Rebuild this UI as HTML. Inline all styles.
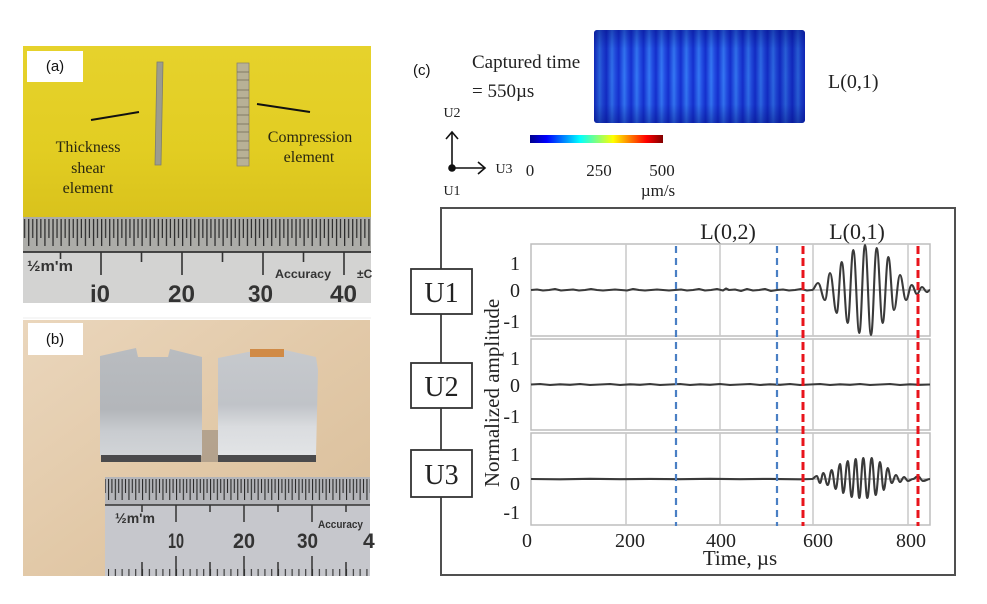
<!DOCTYPE html>
<html><head><meta charset="utf-8"><style>
html,body{margin:0;padding:0;background:#fff;}
svg{display:block;}
</style></head><body>
<svg width="987" height="604" viewBox="0 0 987 604" xmlns="http://www.w3.org/2000/svg">
<defs>
<linearGradient id="yel" x1="0" y1="0" x2="0" y2="1">
<stop offset="0" stop-color="#e6d22c"/><stop offset="0.6" stop-color="#e2cd22"/><stop offset="1" stop-color="#d9c21c"/>
</linearGradient>
<linearGradient id="beige" x1="0" y1="0" x2="1" y2="1">
<stop offset="0" stop-color="#ead6bc"/><stop offset="0.5" stop-color="#e2c9a8"/><stop offset="1" stop-color="#d8bd99"/>
</linearGradient>
<linearGradient id="blkL" x1="0" y1="0" x2="0" y2="1">
<stop offset="0" stop-color="#b9bcc0"/><stop offset="0.55" stop-color="#b3b6ba"/><stop offset="0.75" stop-color="#c9ccd0"/><stop offset="1" stop-color="#d3d6d9"/>
</linearGradient>
<linearGradient id="blkR" x1="0" y1="0" x2="0" y2="1">
<stop offset="0" stop-color="#c6c9cd"/><stop offset="0.5" stop-color="#c0c3c8"/><stop offset="0.7" stop-color="#dadcdf"/><stop offset="1" stop-color="#e3e5e7"/>
</linearGradient>
<linearGradient id="jet" x1="0" y1="0" x2="1" y2="0">
<stop offset="0" stop-color="#00008f"/><stop offset="0.125" stop-color="#0000ff"/><stop offset="0.375" stop-color="#00ffff"/><stop offset="0.625" stop-color="#ffff00"/><stop offset="0.875" stop-color="#ff0000"/><stop offset="1" stop-color="#800000"/>
</linearGradient>
<linearGradient id="stripe" x1="0" y1="0" x2="1" y2="0">
<stop offset="0" stop-color="#1530d0"/><stop offset="0.45" stop-color="#3478f4"/><stop offset="0.7" stop-color="#2450e4"/><stop offset="1" stop-color="#1530d0"/>
</linearGradient>
<pattern id="cyl" x="594" y="0" width="12.4" height="200" patternUnits="userSpaceOnUse">
<rect x="0" y="0" width="12.4" height="200" fill="url(#stripe)"/>
</pattern>
<linearGradient id="cylshade" x1="0" y1="0" x2="0" y2="1">
<stop offset="0" stop-color="#000a70" stop-opacity="0.4"/><stop offset="0.2" stop-color="#000a70" stop-opacity="0.05"/><stop offset="0.5" stop-color="#000a70" stop-opacity="0"/><stop offset="0.8" stop-color="#000a70" stop-opacity="0.05"/><stop offset="1" stop-color="#000a70" stop-opacity="0.4"/>
</linearGradient>
<linearGradient id="cylh" x1="0" y1="0" x2="1" y2="0">
<stop offset="0" stop-color="#000a70" stop-opacity="0.25"/><stop offset="0.12" stop-color="#000a70" stop-opacity="0"/><stop offset="0.6" stop-color="#000a70" stop-opacity="0"/><stop offset="1" stop-color="#000a70" stop-opacity="0.25"/>
</linearGradient>
<pattern id="rA" x="20" y="217" width="8.1" height="40" patternUnits="userSpaceOnUse">
<line x1="0.6" y1="2" x2="0.6" y2="29" stroke="#2a2a2a" stroke-width="1.3"/>
<line x1="4.65" y1="2" x2="4.65" y2="21" stroke="#2a2a2a" stroke-width="1.2"/>
</pattern>
<pattern id="rB" x="108" y="477" width="6.8" height="40" patternUnits="userSpaceOnUse">
<line x1="0.5" y1="2" x2="0.5" y2="23" stroke="#2a2a2a" stroke-width="1.2"/>
<line x1="3.9" y1="2" x2="3.9" y2="16" stroke="#2a2a2a" stroke-width="1.1"/>
</pattern>
<pattern id="rB2" x="108" y="566" width="6.8" height="10" patternUnits="userSpaceOnUse">
<line x1="0.5" y1="3" x2="0.5" y2="10" stroke="#2a2a2a" stroke-width="1.1"/>
</pattern>
</defs>

<!-- ===== Photo (a) ===== -->
<rect x="23" y="46" width="348" height="172" fill="url(#yel)"/>
<rect x="23" y="217" width="348" height="36" fill="#acaca8"/>
<rect x="23" y="217" width="348" height="36" fill="url(#rA)"/>
<rect x="23" y="252" width="348" height="51" fill="#d3d3d2"/>
<line x1="23" y1="252" x2="371" y2="252" stroke="#333" stroke-width="1.8"/>
<g stroke="#333" stroke-width="1.6">
<line x1="101" y1="252" x2="101" y2="275"/><line x1="182" y1="252" x2="182" y2="275"/><line x1="263" y1="252" x2="263" y2="275"/><line x1="344" y1="252" x2="344" y2="275"/>
<line x1="60.5" y1="252" x2="60.5" y2="259"/><line x1="141.5" y1="252" x2="141.5" y2="262"/><line x1="222.5" y1="252" x2="222.5" y2="262"/><line x1="303.5" y1="252" x2="303.5" y2="262"/>
</g>
<g font-family="Liberation Sans, sans-serif" font-weight="bold" fill="#333">
<text x="27" y="271" font-size="15" textLength="46" lengthAdjust="spacingAndGlyphs">½m'm</text>
<text x="275" y="278" font-size="12" textLength="56" lengthAdjust="spacingAndGlyphs">Accuracy</text>
<text x="357" y="278" font-size="12">±C</text>
<text x="90" y="302" font-size="24" textLength="20" lengthAdjust="spacingAndGlyphs">i0</text>
<text x="168" y="302" font-size="24" textLength="27" lengthAdjust="spacingAndGlyphs">20</text>
<text x="248" y="302" font-size="24" textLength="25" lengthAdjust="spacingAndGlyphs">30</text>
<text x="330" y="302" font-size="24" textLength="27" lengthAdjust="spacingAndGlyphs">40</text>
</g>
<line x1="23" y1="318" x2="371" y2="318" stroke="#ececec" stroke-width="1"/>
<!-- elements -->
<polygon points="157,62 163,62 161,165 155,165" fill="#9c9c8e" stroke="#7d7d70" stroke-width="0.8"/>
<polygon points="237,63 249,63 249,166 237,166" fill="#b8b196" stroke="#8a846c" stroke-width="0.8"/>
<g stroke="#6a6450" stroke-width="0.7">
<line x1="237" y1="72" x2="249" y2="72"/><line x1="237" y1="80" x2="249" y2="80"/><line x1="237" y1="90" x2="249" y2="90"/><line x1="237" y1="98" x2="249" y2="98"/><line x1="237" y1="107" x2="249" y2="107"/><line x1="237" y1="115" x2="249" y2="115"/><line x1="237" y1="124" x2="249" y2="124"/><line x1="237" y1="132" x2="249" y2="132"/><line x1="237" y1="141" x2="249" y2="141"/><line x1="237" y1="150" x2="249" y2="150"/><line x1="237" y1="158" x2="249" y2="158"/>
</g>
<line x1="91" y1="120" x2="139" y2="112" stroke="#111" stroke-width="2"/>
<line x1="257" y1="104" x2="310" y2="112" stroke="#111" stroke-width="2"/>
<g font-family="Liberation Serif, serif" font-size="16" fill="#2a2810" text-anchor="middle">
<text x="88" y="152">Thickness</text>
<text x="88" y="173">shear</text>
<text x="88" y="193">element</text>
<text x="310" y="142">Compression</text>
<text x="309" y="162">element</text>
</g>
<rect x="27" y="51" width="56" height="31" fill="#fff"/>
<text x="55" y="71" font-family="Liberation Sans, sans-serif" font-size="15" text-anchor="middle" fill="#111">(a)</text>

<!-- ===== Photo (b) ===== -->
<rect x="23" y="320" width="347" height="256" fill="url(#beige)"/>
<rect x="198" y="430" width="24" height="32" fill="#8e8478" opacity="0.55"/>
<path d="M100,356 L136,348 L138,357 L168,357 L170,349 L202,357 L202,455 L197,460 L104,460 L100,455 Z" fill="url(#blkL)"/>
<path d="M218,358 L248,352 L285,350 L316,357 L318,370 L316,455 L312,460 L222,460 L218,455 Z" fill="url(#blkR)"/>
<rect x="101" y="455" width="100" height="7" fill="#4a4a4c"/>
<rect x="218" y="455" width="98" height="7" fill="#4a4a4c"/>
<rect x="250" y="349" width="34" height="8" fill="#d08a46"/>
<rect x="105" y="477" width="265" height="99" fill="#c6c7cc"/>
<rect x="105" y="477" width="265" height="28" fill="#b4b5b9"/>
<rect x="105" y="477" width="265" height="28" fill="url(#rB)"/>
<rect x="105" y="566" width="265" height="10" fill="url(#rB2)"/>
<line x1="105" y1="505" x2="370" y2="505" stroke="#333" stroke-width="1.6"/>
<g stroke="#333" stroke-width="1.5">
<line x1="176" y1="505" x2="176" y2="522"/><line x1="244" y1="505" x2="244" y2="522"/><line x1="312" y1="505" x2="312" y2="522"/>
<line x1="142" y1="505" x2="142" y2="512"/><line x1="210" y1="505" x2="210" y2="512"/><line x1="278" y1="505" x2="278" y2="512"/><line x1="346" y1="505" x2="346" y2="512"/>
<line x1="176" y1="556" x2="176" y2="576"/><line x1="244" y1="556" x2="244" y2="576"/><line x1="312" y1="556" x2="312" y2="576"/>
<line x1="142" y1="562" x2="142" y2="576"/><line x1="210" y1="562" x2="210" y2="576"/><line x1="278" y1="562" x2="278" y2="576"/><line x1="346" y1="562" x2="346" y2="576"/>
</g>
<g font-family="Liberation Sans, sans-serif" font-weight="bold" fill="#333">
<text x="115" y="523" font-size="14" textLength="40" lengthAdjust="spacingAndGlyphs">½m'm</text>
<text x="318" y="528" font-size="11" textLength="45" lengthAdjust="spacingAndGlyphs">Accuracy</text>
<text x="168" y="548" font-size="21" textLength="16" lengthAdjust="spacingAndGlyphs">10</text>
<text x="233" y="548" font-size="21" textLength="22" lengthAdjust="spacingAndGlyphs">20</text>
<text x="297" y="548" font-size="21" textLength="21" lengthAdjust="spacingAndGlyphs">30</text>
<text x="363" y="548" font-size="21">4</text>
</g>
<rect x="28" y="323" width="55" height="32" fill="#fff"/>
<text x="55" y="344" font-family="Liberation Sans, sans-serif" font-size="15" text-anchor="middle" fill="#111">(b)</text>

<!-- ===== (c) top ===== -->
<text x="413" y="75" font-family="Liberation Sans, sans-serif" font-size="15" fill="#111">(c)</text>
<g font-family="Liberation Serif, serif" fill="#222">
<text x="472" y="68" font-size="19">Captured time</text>
<text x="472" y="97" font-size="19">= 550µs</text>
<text x="828" y="88" font-size="20">L(0,1)</text>
<text x="530" y="176" font-size="17" text-anchor="middle">0</text>
<text x="599" y="176" font-size="17" text-anchor="middle">250</text>
<text x="662" y="176" font-size="17" text-anchor="middle">500</text>
<text x="658" y="196" font-size="17" text-anchor="middle">µm/s</text>
<text x="452" y="117" font-size="14" text-anchor="middle">U2</text>
<text x="504" y="173" font-size="14" text-anchor="middle">U3</text>
<text x="452" y="195" font-size="14" text-anchor="middle">U1</text>
</g>
<rect x="594" y="30" width="211" height="93" rx="3" fill="url(#cyl)"/>
<rect x="594" y="30" width="211" height="93" rx="3" fill="url(#cylshade)"/>
<rect x="594" y="30" width="211" height="93" rx="3" fill="url(#cylh)"/>
<rect x="530" y="135" width="133" height="8" fill="url(#jet)"/>
<g stroke="#111" stroke-width="1.6" fill="none">
<line x1="452" y1="168" x2="452" y2="132"/>
<polyline points="446,139 452,132 458,139"/>
<line x1="452" y1="168" x2="485" y2="168"/>
<polyline points="478,162 485,168 478,174"/>
</g>
<circle cx="452" cy="168" r="3.8" fill="#111"/>

<!-- ===== Chart ===== -->
<rect x="441" y="208" width="514" height="367" fill="#fff" stroke="#505050" stroke-width="2"/>
<g fill="#fff" stroke="#bdbdbd" stroke-width="1.5">
<rect x="531" y="244" width="399" height="92"/>
<rect x="531" y="339" width="399" height="91"/>
<rect x="531" y="433" width="399" height="92"/>
</g>
<g stroke="#c8c8c8" stroke-width="1.5">
<line x1="626" y1="244" x2="626" y2="336"/><line x1="720" y1="244" x2="720" y2="336"/><line x1="813" y1="244" x2="813" y2="336"/><line x1="908" y1="244" x2="908" y2="336"/>
<line x1="626" y1="339" x2="626" y2="430"/><line x1="720" y1="339" x2="720" y2="430"/><line x1="813" y1="339" x2="813" y2="430"/><line x1="908" y1="339" x2="908" y2="430"/>
<line x1="626" y1="433" x2="626" y2="525"/><line x1="720" y1="433" x2="720" y2="525"/><line x1="813" y1="433" x2="813" y2="525"/><line x1="908" y1="433" x2="908" y2="525"/>
</g>
<g stroke="#a8a8a8" stroke-width="1.3">
<line x1="531" y1="290" x2="930" y2="290"/>
<line x1="531" y1="384.5" x2="930" y2="384.5"/>
<line x1="531" y1="479" x2="930" y2="479"/>
</g>
<!-- waveforms -->
<g fill="none" stroke="#3a3a3a" stroke-width="2.1" stroke-linejoin="round">
<path d="M531,290 L537,289.5 L543,290.5 L549,290 L555,289 L561,290.5 L567,290 L573,289.5 L579,290.5 L585,290 L591,289 L597,290 L603,290.5 L609,290 L615,289.5 L621,290 L627,290.5 L633,289 L639,290 L645,290.5 L651,290 L657,289.5 L663,290 L669,290.5 L675,290 L681,289.5 L687,290.5 L693,290 L699,289 L705,290.5 L711,290 L717,289 L723,290.5 L726,288.5 L729,290 L735,289.5 L741,291 L747,289 L753,290.5 L759,290 L765,289 L771,291 L777,290 L783,289.5 L789,290.5 L795,290 L801,289 L807,290.5 L812,290
C814.4,290 815.6,283 818,283 C820.8,283 822.2,300 825,300 C827,300 828,273 830,273 C832.7,273 834,313 836.7,313 C838.7,313 839.7,262 841.7,262 C844.1,262 845.3,323 847.7,323 C849.9,323 851.1,250 853.3,250 C855.7,250 856.9,333 859.3,333 C861.6,333 862.7,245 865,245 C867.4,245 868.6,335 871,335 C873.3,335 874.4,248 876.7,248 C879.1,248 880.3,323 882.7,323 C884.9,323 886.1,257 888.3,257 C890.6,257 891.7,310 894,310 C896.4,310 897.6,275 900,275 C902.4,275 903.6,300 906,300 C908.3,300 909.4,285 911.7,285 C913.8,285 914.9,294 917,294 C919,294 920,287 922,287 C924,287 925,292 927,292 C928.2,292 928.8,290 930,290"/>
<path d="M531,384.5 L540,384 L550,385 L560,384.3 L570,384.8 L580,384 L590,385 L600,384.5 L610,384 L620,385 L630,384.3 L640,384.8 L650,384 L660,385 L670,384.5 L680,384 L690,385 L700,384.3 L710,384.8 L720,384 L730,385 L740,384.5 L750,384 L760,385 L770,384.3 L780,384.8 L790,384 L800,385 L810,384.5 L820,384 L830,385 L840,384.3 L850,384.8 L860,384 L870,385 L880,384.5 L890,384 L900,385 L910,384.3 L920,384.8 L930,384.5"/>
<path d="M531,479 L560,479.3 L590,478.8 L620,479.2 L650,478.9 L680,479.2 L710,478.8 L740,479.2 L770,478.9 L800,479.3 L812,479
C813.9,479 814.8,476 816.7,476 C818,476 818.7,483 820,483 C821.3,483 822,473 823.3,473 C825.1,473 825.9,485 827.7,485 C829.3,485 830.1,470 831.7,470 C833.3,470 834.1,489 835.7,489 C837.4,489 838.3,464 840,464 C841.3,464 842,493 843.3,493 C845.1,493 845.9,461 847.7,461 C849.3,461 850.1,497 851.7,497 C853.3,497 854.1,459 855.7,459 C857.1,459 857.9,498 859.3,498 C860.9,498 861.7,458 863.3,458 C864.9,458 865.7,498 867.3,498 C869.1,498 869.9,458 871.7,458 C873.3,458 874.1,495 875.7,495 C877.4,495 878.3,462 880,462 C881.5,462 882.2,490 883.7,490 C885.3,490 886.1,468 887.7,468 C889.3,468 890.1,483 891.7,483 C893.4,483 894.3,475 896,475 C897.6,475 898.4,482 900,482 C901.6,482 902.4,477 904,477 C905.6,477 906.4,481 908,481 C910,481 911,479 913,479 C915,479 916,476 918,476 C920,476 921,481 923,481 C925.8,481 927.2,479 930,479"/>
</g>
<!-- dashed markers -->
<g stroke="#4a7fc4" stroke-width="2.2" stroke-dasharray="7 5">
<line x1="676" y1="246" x2="676" y2="526"/>
<line x1="777" y1="246" x2="777" y2="526"/>
</g>
<g stroke="#e8141c" stroke-width="3" stroke-dasharray="8 4">
<line x1="803" y1="246" x2="803" y2="526"/>
<line x1="918" y1="246" x2="918" y2="526"/>
</g>
<!-- labels -->
<g font-family="Liberation Serif, serif" fill="#222">
<text x="728" y="239" font-size="22" text-anchor="middle">L(0,2)</text>
<text x="857" y="239" font-size="22" text-anchor="middle">L(0,1)</text>
<g font-size="20" text-anchor="end">
<text x="520" y="270">1</text><text x="520" y="297">0</text><text x="520" y="328">-1</text>
<text x="520" y="365">1</text><text x="520" y="392">0</text><text x="520" y="423">-1</text>
<text x="520" y="461">1</text><text x="520" y="490">0</text><text x="520" y="519">-1</text>
</g>
<g font-size="20" text-anchor="middle">
<text x="527" y="547">0</text><text x="630" y="547">200</text><text x="721" y="547">400</text><text x="818" y="547">600</text><text x="911" y="547">800</text>
</g>
<text x="740" y="565" font-size="21" text-anchor="middle">Time, µs</text>
<text transform="translate(499,393) rotate(-90)" font-size="21" text-anchor="middle">Normalized amplitude</text>
</g>
<!-- U boxes -->
<g fill="#fff" stroke="#333" stroke-width="1.8">
<rect x="411" y="269" width="61" height="45"/>
<rect x="411" y="363" width="61" height="45"/>
<rect x="411" y="450" width="61" height="47"/>
</g>
<g font-family="Liberation Serif, serif" font-size="28" fill="#222" text-anchor="middle">
<text x="441.5" y="302">U1</text>
<text x="441.5" y="396">U2</text>
<text x="441.5" y="484">U3</text>
</g>
</svg>
</body></html>
